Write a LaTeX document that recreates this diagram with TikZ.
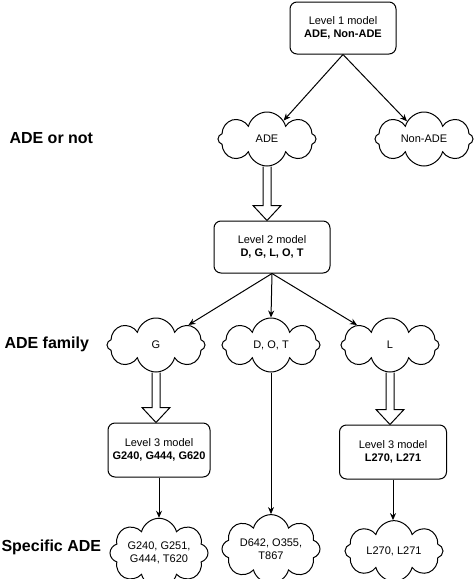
\documentclass[tikz,border=0pt]{standalone}
\usepackage{fontspec}
\setmainfont{Liberation Sans}
\usetikzlibrary{arrows.meta,shapes.symbols,calc}
\tikzstyle{box}=[rectangle,rounded corners=7pt,draw=black,line width=1pt,
  minimum width=106pt,minimum height=52pt,align=center,font=\fontsize{11}{13}\selectfont]
\tikzstyle{cl}=[cloud,cloud puffs=8,aspect=1.9,draw=black,line width=1pt,
  minimum width=98pt,minimum height=54pt,inner sep=0pt,align=center,font=\fontsize{11}{13}\selectfont]
\tikzstyle{lbl}=[anchor=west,font=\fontsize{16}{18}\selectfont\bfseries]
\tikzstyle{arr}=[-{Stealth[length=7pt,width=6pt]},line width=1pt]
\newcommand{\fatarrow}[2]{%
  \draw[line width=1pt,line join=miter] let \p1=(#1.south), \p2=(#2.north) in
    (\x1-4pt,\y1) -- (\x1-4pt,\y2+15pt) -- (\x1-14pt,\y2+15pt) -- (\x1,\y2)
    -- (\x1+14pt,\y2+15pt) -- (\x1+4pt,\y2+15pt) -- (\x1+4pt,\y1);}

\begin{document}
\begin{tikzpicture}[x=1pt,y=-1pt]
    \useasboundingbox (0,0) rectangle (474,579);
        \node[style=box] (0) at (343, 28) {Level 1 model\\\textbf{ADE, Non-ADE}};
        \node[style=cl] (1) at (267, 139) {ADE};
        \node[style=cl] (2) at (424, 139) {Non-ADE};
        \node[style=box,minimum width=116pt] (3) at (272, 247) {Level 2 model\\\textbf{D, G, L, O, T}};
        \node[style=cl] (4) at (156, 345) {G};
        \node[style=cl] (5) at (271, 345) {D, O, T};
        \node[style=cl] (6) at (390, 345) {L};
        \node[style=box,minimum width=102pt,minimum height=54pt] (7) at (159, 450) {Level 3 model\\\textbf{G240, G444, G620}};
        \node[style=box,minimum width=107pt,minimum height=54pt] (8) at (393, 452) {Level 3 model\\\textbf{L270, L271}};
        \node[style=cl] (9) at (159, 553) {G240, G251,\\G444, T620};
        \node[style=cl,minimum height=62pt] (10) at (271, 549) {D642, O355,\\T867};
        \node[style=cl] (11) at (394, 551) {L270, L271};
        \node[style=lbl] (a) at (6, 138) {ADE or not};
        \node[style=lbl] (b) at (1, 344) {ADE family};
        \node[style=lbl] (c) at (-2, 547) {Specific ADE};
        \draw[style=arr] (0.south) to (1);
        \draw[style=arr] (0.south) to (2);
        \fatarrow{1}{3}
        \draw[style=arr] (3.south) to (4);
        \draw[style=arr] (3.south) to (5.north);
        \draw[style=arr] (3.south) to (6);
        \fatarrow{4}{7}
        \fatarrow{6}{8}
        \draw[style=arr] (5.south) to (10.north);
        \draw[style=arr] (7.south) to (7.south |- 9.north);
        \draw[style=arr] (8.south) to (8.south |- 11.north);
    \end{tikzpicture}
\end{document}
